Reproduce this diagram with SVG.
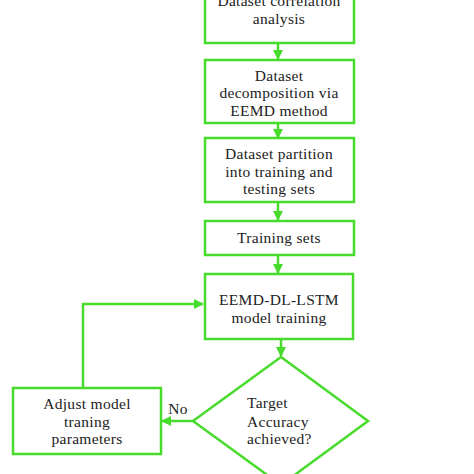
<svg xmlns="http://www.w3.org/2000/svg" width="474" height="474" viewBox="0 0 474 474">
<defs>
<style>
.b{fill:#fff;stroke:#47dc2c;stroke-width:2.5}
.c{fill:none;stroke:#47dc2c;stroke-width:2.5}
text{font-family:"Liberation Serif","DejaVu Serif",serif;font-size:15.5px;letter-spacing:0.3px;fill:#222;text-anchor:middle}
</style>
<marker id="a" viewBox="0 0 10 10" refX="9" refY="5" markerWidth="4" markerHeight="4" orient="auto" markerUnits="strokeWidth">
<path d="M0,0 L10,5 L0,10 z" fill="#47dc2c"/>
</marker>
</defs>
<rect width="474" height="474" fill="#fff"/>
<g id="connectors">
<line class="c" x1="278" y1="43" x2="278" y2="59" marker-end="url(#a)"/>
<line class="c" x1="278" y1="123" x2="278" y2="138" marker-end="url(#a)"/>
<line class="c" x1="278" y1="202" x2="278" y2="220" marker-end="url(#a)"/>
<line class="c" x1="278" y1="255" x2="278" y2="273" marker-end="url(#a)"/>
<line class="c" x1="281" y1="339" x2="281" y2="356" marker-end="url(#a)"/>
<line class="c" x1="193" y1="421" x2="162" y2="421" marker-end="url(#a)"/>
<polyline class="c" points="83,388 83,304 203,304" marker-end="url(#a)"/>
<text x="178" y="414">No</text>
</g>
<g id="n1"><rect class="b" x="205" y="-22" width="149" height="65"/><text x="279" y="6">Dataset correlation</text><text x="279" y="24">analysis</text></g>
<g id="n2"><rect class="b" x="205" y="60" width="149" height="63"/><text x="279" y="81">Dataset</text><text x="279" y="98">decomposition via</text><text x="279" y="116">EEMD method</text></g>
<g id="n3"><rect class="b" x="205" y="138" width="149" height="64"/><text x="279" y="159">Dataset partition</text><text x="279" y="177">into training and</text><text x="279" y="194">testing sets</text></g>
<g id="n4"><rect class="b" x="205" y="221" width="149" height="34"/><text x="279" y="243">Training sets</text></g>
<g id="n5"><rect class="b" x="205" y="274" width="148" height="65"/><text x="279" y="305">EEMD-DL-LSTM</text><text x="279" y="323">model training</text></g>
<g id="n6"><polygon class="b" points="281,357 368,421 281,485 193,421"/><text x="247" y="408" style="text-anchor:start">Target</text><text x="247" y="427" style="text-anchor:start">Accuracy</text><text x="247" y="444" style="text-anchor:start">achieved?</text></g>
<g id="n7"><rect class="b" x="13" y="388" width="148" height="66"/><text x="87" y="409">Adjust model</text><text x="87" y="427">traning</text><text x="87" y="444">parameters</text></g>
</svg>
